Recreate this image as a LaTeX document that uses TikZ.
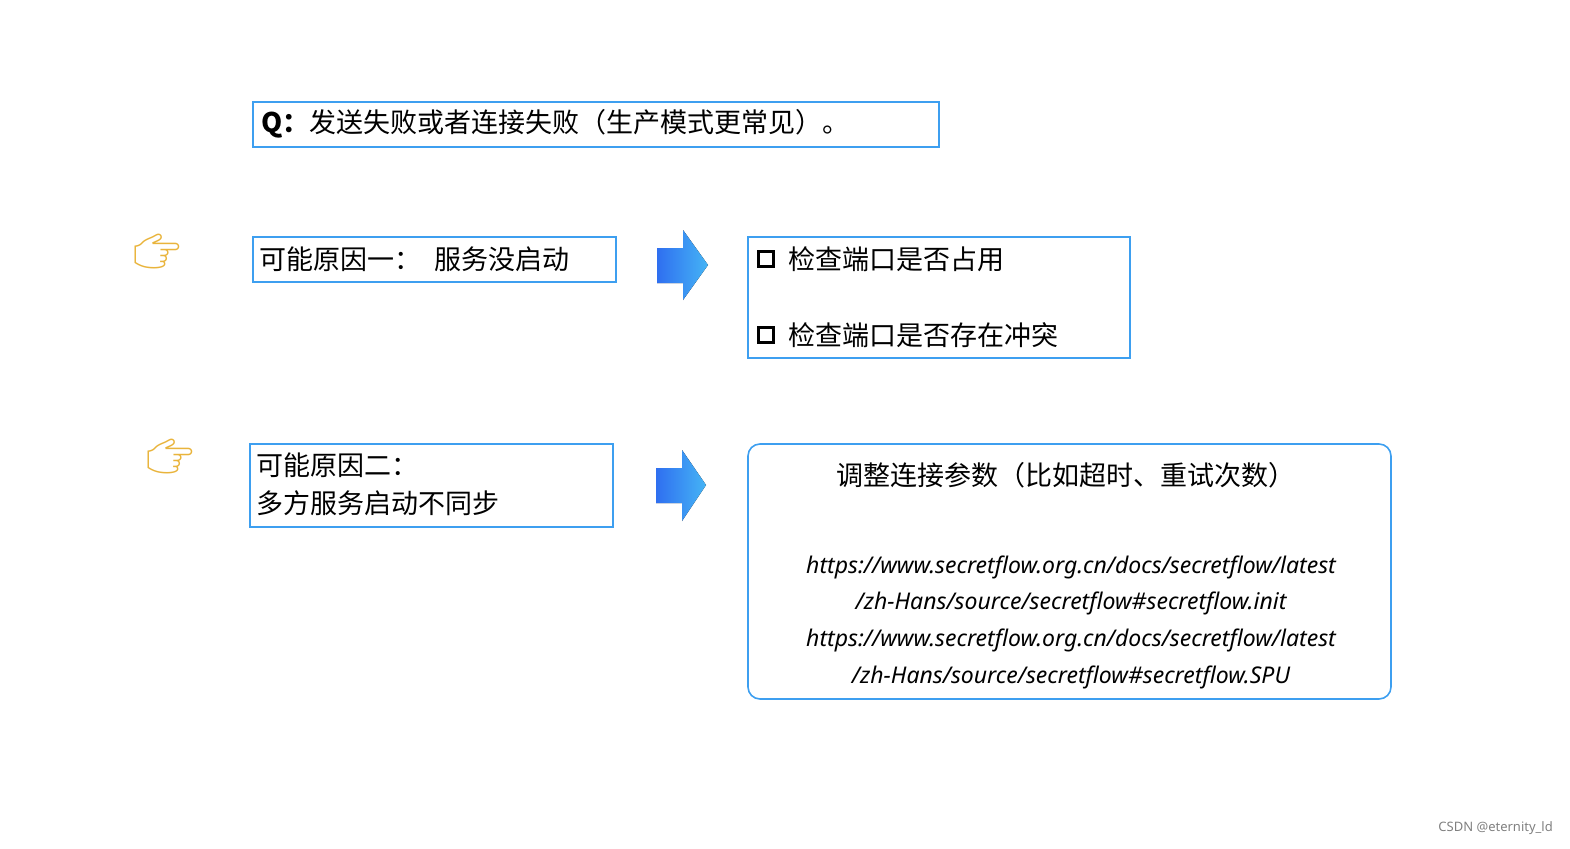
\documentclass[tikz,border=0pt]{standalone}
\usepackage{fontspec}
\setmainfont{Noto Sans CJK SC}
\newfontfamily\urlfont{Noto Sans}
\newfontfamily\emojifont{Noto Emoji}
\definecolor{bx}{HTML}{3D9FF0}
\definecolor{ar1}{HTML}{2F6FF0}
\definecolor{ar2}{HTML}{45B4F5}
\definecolor{hand}{HTML}{E9B43C}
\tikzset{
  box/.style={draw=bx,line width=1.6pt},
  txt/.style={anchor=west,font=\fontsize{27}{32}\selectfont,inner sep=0pt},
  url/.style={font=\urlfont\itshape\fontsize{23}{28}\selectfont,inner sep=0pt},
  chk/.style={draw=black,line width=3pt,minimum size=15pt,inner sep=0pt},
  fat/.style={left color=ar1,right color=ar2,draw=none},
  handi/.style={font=\emojifont\fontsize{38}{40}\selectfont,text=hand,inner sep=0pt}
}
\begin{document}
\begin{tikzpicture}[x=1pt,y=-1pt]
\useasboundingbox (0,0) rectangle (1570,848);
\draw[box] (253,102) rectangle (939,147);
\node[txt] (q) at (261,124) {\textbf{Q：}发送失败或者连接失败（生产模式更常见）。};
\node[handi] (h1) at (157,252) {👉};
\node[handi] (h2) at (170,457) {👉};
\draw[box] (253,237) rectangle (616,282);
\node[txt] (r1) at (259,259) {可能原因一：\hspace{0.5em}服务没启动};
\fill[fat] (657,248) -- (683,248) -- (683,230) -- (708,265) -- (683,300) -- (683,283) -- (657,283) -- cycle;
\draw[box] (748,237) rectangle (1130,358);
\node[chk] (c1) at (766,259) {};
\node[txt] (t1) at (788,259) {检查端口是否占用};
\node[chk] (c2) at (766,335) {};
\node[txt] (t2) at (788,335) {检查端口是否存在冲突};
\draw[box] (250,444) rectangle (613,527);
\node[txt] (r2a) at (256,465) {可能原因二：};
\node[txt] (r2b) at (256,503) {多方服务启动不同步};
\fill[fat] (656,468) -- (682,468) -- (682,450) -- (706,485) -- (682,521) -- (682,503) -- (656,503) -- cycle;
\draw[box,rounded corners=12pt] (748,444) rectangle (1391,699);
\node[txt,anchor=center] (ti) at (1066,475) {调整连接参数（比如超时、重试次数）};
\node[url] (u1) at (1071,567) {https://www.secretflow.org.cn/docs/secretflow/latest};
\node[url] (u2) at (1071,603) {/zh-Hans/source/secretflow\#secretflow.init};
\node[url] (u3) at (1071,640) {https://www.secretflow.org.cn/docs/secretflow/latest};
\node[url] (u4) at (1071,677) {/zh-Hans/source/secretflow\#secretflow.SPU};
\node[font=\urlfont\fontsize{13}{15}\selectfont,text=gray,anchor=east,inner sep=0pt] (wm) at (1553,828) {CSDN @eternity\_ld};
\end{tikzpicture}
\end{document}
